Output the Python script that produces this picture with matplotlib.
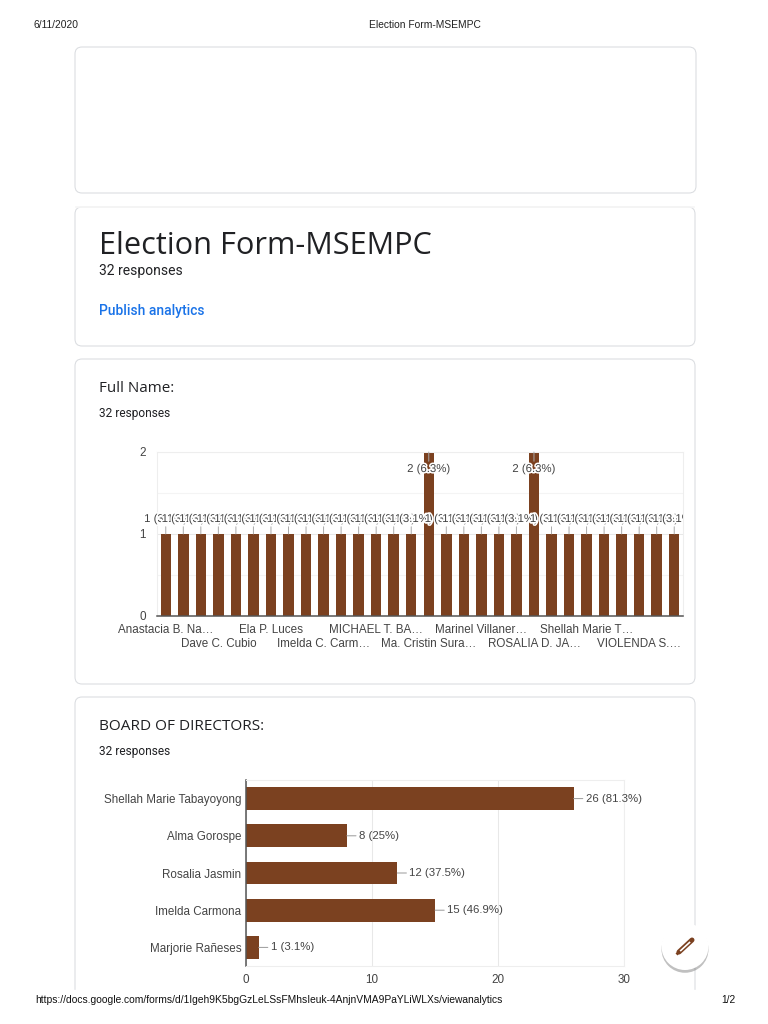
import matplotlib as mpl
import matplotlib.pyplot as plt
import matplotlib.patheffects as pe
from matplotlib.patches import FancyBboxPatch, Circle
from matplotlib.transforms import Bbox

mpl.rcParams['font.family'] = ['Liberation Sans', 'DejaVu Sans']

# ==============data==================
names = ["Anastacia B. Na…", "", "", "Dave C. Cubio", "", "", "Ela P. Luces", "", "",
         "Imelda C. Carm…", "", "", "MICHAEL T. BA…", "", "", "Ma. Cristin Sura…", "", "",
         "Marinel Villaner…", "", "", "ROSALIA D. JA…", "", "", "Shellah Marie T…", "", "",
         "VIOLENDA S.…", "", ""]
counts = [1, 1, 1, 1, 1, 1, 1, 1, 1, 1, 1, 1, 1, 1, 1, 2, 1, 1, 1, 1, 1, 2, 1, 1, 1, 1, 1, 1, 1, 1]
count_labels = ["2 (6.3%)" if c == 2 else "1 (3.1%)" for c in counts]

directors = ["Shellah Marie Tabayoyong", "Alma Gorospe", "Rosalia Jasmin", "Imelda Carmona", "Marjorie Rañeses"]
director_votes = [26, 8, 12, 15, 1]
director_labels = ["26 (81.3%)", "8 (25%)", "12 (37.5%)", "15 (46.9%)", "1 (3.1%)"]

BROWN = '#7b4120'
GREY = '#444444'
W, H = 768, 1024

fig = plt.figure(figsize=(W / 100, H / 100), dpi=100)


def page_axes(zorder):
    a = fig.add_axes([0, 0, 1, 1], zorder=zorder)
    a.set_xlim(0, W)
    a.set_ylim(H, 0)
    a.axis('off')
    return a


def chart_axes(left, top, right, bottom):
    return fig.add_axes([left / W, 1 - bottom / H, (right - left) / W, (bottom - top) / H], zorder=2)


# ==============page==================
page = page_axes(1)
for x0, y0, x1, y1 in [(75, 47, 696, 193), (75, 207, 695, 346), (75, 359, 695, 684), (75, 697, 695, 1030)]:
    page.add_patch(FancyBboxPatch((x0 + 6, y0 + 6), x1 - x0 - 12, y1 - y0 - 12,
                                  boxstyle="round,pad=6,rounding_size=7",
                                  fc='white', ec='#dadce0', lw=0.75))
# white out what runs below the card
page.fill_between([0, W], 990, H, color='white', zorder=3)
# second card has almost no top edge
page.plot([76, 694], [207, 207], color='#f6f6f6', lw=1.2, zorder=3)

page.text(34, 25, "6/11/2020", fontsize=7.4, color='#222222', va='center')
page.text(425, 25, "Election Form-MSEMPC", fontsize=7.4, color='#222222', va='center', ha='center')
page.text(35, 1000, "https://docs.google.com/forms/d/1Igeh9K5bgGzLeLSsFMhsIeuk-4AnjnVMA9PaYLiWLXs/viewanalytics",
          fontsize=7.35, color='#111111', va='center', zorder=4)
page.text(721, 1000, "1/2", fontsize=7.4, color='#111111', va='center', zorder=4)

page.text(99, 246, "Election Form-MSEMPC", fontsize=22.1, family='Open Sans', color='#202124', va='center')
page.text(99, 271, "32 responses", fontsize=10, family='Roboto', color='#202124', va='center')
page.text(99, 311, "Publish analytics", fontsize=10, family='Roboto', color='#1a73e8', va='center', weight='medium')
page.text(99, 388, "Full Name:", fontsize=10.9, family='Open Sans', color='#202124', va='center')
page.text(99, 413, "32 responses", fontsize=8.6, family='Roboto', color='#202124', va='center')
page.text(99, 726, "BOARD OF DIRECTORS:", fontsize=11.1, family='Open Sans', color='#202124', va='center')
page.text(99, 751, "32 responses", fontsize=8.6, family='Roboto', color='#202124', va='center')

# ==============Full Name chart==================
ax = chart_axes(157, 452, 683, 616)
positions = list(range(len(counts)))
ax.bar(positions, counts, width=0.6, color=BROWN, zorder=2)
ax.set_xlim(-0.5, len(counts) - 0.5)
ax.set_ylim(0, 2)
ax.set_yticks([0, 1, 2])
ax.set_yticks([0.5, 1.5], minor=True)
ax.grid(axis='y', which='major', color='#e8e8e8', lw=0.75, zorder=0)
ax.grid(axis='y', which='minor', color='#f4f4f4', lw=0.75, zorder=0)
ax.set_xticks(positions)
rows = []
shown = 0
for n in names:
    if n:
        rows.append(n if shown % 2 == 0 else "\n" + n)
        shown += 1
    else:
        rows.append("")
ax.set_xticklabels(rows, fontsize=8.4, color=GREY, linespacing=1.22)
ax.tick_params(axis='both', which='both', length=0)
ax.tick_params(axis='y', labelsize=8.4, labelcolor=GREY, pad=8)
ax.tick_params(axis='x', pad=5.5)
for s in ['top', 'left', 'right']:
    ax.spines[s].set_color('#eeeeee')
    ax.spines[s].set_linewidth(0.75)
ax.spines['bottom'].set_color('#555555')
ax.spines['bottom'].set_linewidth(1.1)

clip = Bbox([[0, 0], [683, H]])
for i, (c, lab) in enumerate(zip(counts, count_labels)):
    off = -17 if c == 2 else 15
    t = ax.annotate(lab, xy=(i, c), xytext=(0, off), textcoords='offset pixels',
                    ha='center', va='center', fontsize=8.2, color=GREY, zorder=5,
                    annotation_clip=False,
                    arrowprops=dict(arrowstyle='-', color='#aaaaaa', lw=0.7, shrinkA=0, shrinkB=0))
    t.set_path_effects([pe.withStroke(linewidth=2.2, foreground='white')])
    t.set_clip_box(clip)
    t.set_clip_on(True)

# ==============Board chart==================
ax2 = chart_axes(246, 780, 624, 966)
rows2 = list(range(len(directors)))
ax2.barh(rows2, director_votes, height=0.61, color=BROWN, zorder=2)
ax2.set_xlim(0, 30)
ax2.set_ylim(len(directors) - 0.5, -0.5)
ax2.set_xticks([0, 10, 20, 30])
ax2.set_yticks(rows2)
ax2.set_yticklabels(directors)
ax2.grid(axis='x', color='#e8e8e8', lw=0.75, zorder=0)
ax2.tick_params(axis='both', length=0, labelsize=8.4, labelcolor=GREY)
ax2.tick_params(axis='y', pad=3.5)
ax2.tick_params(axis='x', pad=6)
for s in ['top', 'bottom', 'right']:
    ax2.spines[s].set_color('#eeeeee')
    ax2.spines[s].set_linewidth(0.75)
ax2.spines['left'].set_color('#555555')
ax2.spines['left'].set_linewidth(1.1)
for i, (v, lab) in enumerate(zip(director_votes, director_labels)):
    ax2.annotate(lab, xy=(v, i), xytext=(12, 0), textcoords='offset pixels',
                 ha='left', va='center', fontsize=8.2, color=GREY,
                 arrowprops=dict(arrowstyle='-', color='#999999', lw=0.7, shrinkA=0, shrinkB=0,
                                 relpos=(0, 0.5)))

# ==============edit button==================
top = page_axes(3)
top.add_patch(Circle((685, 946.5), 23.5, fc='white', ec='none',
                     path_effects=[pe.SimplePatchShadow(offset=(0, -2), alpha=0.35), pe.Normal()]))
top.plot([679, 692], [952, 940], color=BROWN, lw=3.6, solid_capstyle='round')
top.plot([680.5, 689.5], [950.8, 942.5], color='white', lw=1.2)
top.plot([677.5, 679], [953.5, 952], color=BROWN, lw=2)

fig.savefig('out.png', dpi=100)
